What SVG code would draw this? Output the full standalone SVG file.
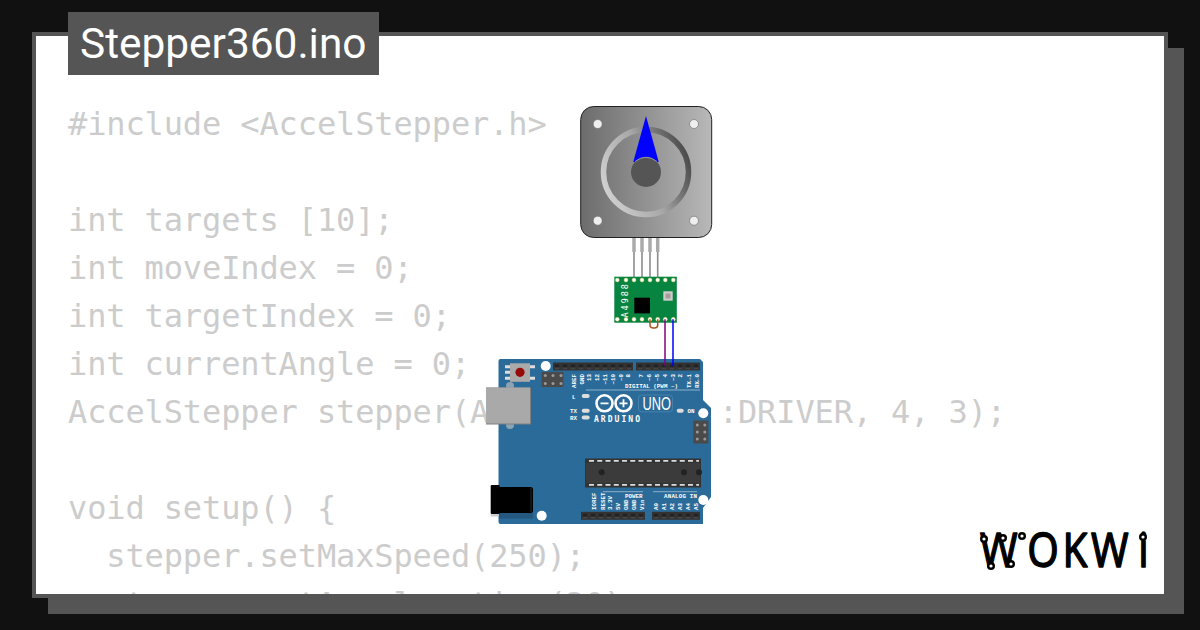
<svg xmlns="http://www.w3.org/2000/svg" width="1200" height="630" viewBox="0 0 1200 630">
<defs>
<style>
.code{font-family:"DejaVu Sans Mono","Liberation Mono",monospace;font-size:32px;fill:#ccc;white-space:pre;letter-spacing:-.12px}
.s{font-family:"Liberation Mono","DejaVu Sans Mono",monospace;font-size:5.8px;font-weight:700;fill:#fff}
.v{text-anchor:end}
.pad{fill:#fff;stroke:#d8c24a;stroke-width:.4}
.pin{stroke:#ddd;stroke-width:3;stroke-linecap:butt}
.led{fill:#ddd}
.hole{fill:#fff}
.d{fill:#999}
.logo{fill:#fff;stroke:#000;stroke-width:2.4}
</style>
<linearGradient id="body" x1="0" x2="1" y1="0" y2="0"><stop offset="0" stop-color="#6c6c6c"/><stop offset="1" stop-color="#b8b8b8"/></linearGradient>
<linearGradient id="ring" x1="0" x2="1" y1=".7" y2=".3"><stop offset="0" stop-color="#d0d0d0"/><stop offset=".5" stop-color="#a8a8a8"/><stop offset=".75" stop-color="#777"/><stop offset="1" stop-color="#4a4a4a"/></linearGradient>
<pattern id="pins" patternUnits="userSpaceOnUse" width="8" height="8"><rect width="8" height="8" fill="#333"/><rect x="1.800" y="2" width="4.400" height="4.400" fill="#222"/><rect x="1.800" y="5.200" width="4.400" height="1.200" fill="#555"/></pattern>
<clipPath id="page"><rect x="36" y="36" width="1128" height="558"/></clipPath>
</defs>
<rect width="1200" height="630" fill="#111"/>
<rect x="48" y="48" width="1136" height="566" fill="#555"/>
<rect x="34" y="34" width="1132" height="562" fill="#fff" stroke="#555" stroke-width="4"/>
<g id="code" clip-path="url(#page)">
<text class="code" x="68" y="135">#include &lt;AccelStepper.h&gt;</text>
<text class="code" x="68" y="231">int targets [10];</text>
<text class="code" x="68" y="279">int moveIndex = 0;</text>
<text class="code" x="68" y="327">int targetIndex = 0;</text>
<text class="code" x="68" y="375">int currentAngle = 0;</text>
<text class="code" x="68" y="423">AccelStepper stepper(A</text>
<text class="code" x="718.800" y="423">:DRIVER, 4, 3);</text>
<text class="code" x="68" y="519">void setup() {</text>
<text class="code" x="68" y="567">  stepper.setMaxSpeed(250);</text>
<text class="code" x="68" y="615">  stepper.setAcceleration(30);</text>
</g>
<g id="title">
<rect x="68" y="12" width="311" height="63" fill="#555"/>
<text x="80" y="58" font-family="Roboto,sans-serif" font-size="42.400" fill="#fff">Stepper360.ino</text>
</g>
<g id="uno">
<path d="M500.500 359H700L703 362V400L711 408V497L703 508V524H500.500Q498.500 524 498.500 522V361Q498.500 359 500.500 359Z" fill="#2b6b99"/>
<path d="M499 518.500H533V513H499Z" fill="#24587e"/>
<circle cx="510" cy="386" r="4" fill="#8ca3b3"/><circle cx="510" cy="425" r="4" fill="#8ca3b3"/>
<g><g transform="translate(553 362.500)"><rect width="80" height="8" fill="url(#pins)"/></g>
<g transform="translate(636 362.500)"><rect width="64" height="8" fill="url(#pins)"/></g>
<g transform="translate(581 511.800)"><rect width="64" height="8" fill="url(#pins)"/></g>
<g transform="translate(652 511.800)"><rect width="48" height="8" fill="url(#pins)"/></g></g>
<circle class="hole" cx="545.700" cy="366" r="5"/><circle class="hole" cx="703.300" cy="413.300" r="5"/><circle class="hole" cx="541.700" cy="515.700" r="5"/><circle class="hole" cx="703.300" cy="500" r="5"/>
<g id="reset"><path class="pin" d="M505 366.700h5M505 372.300h5M505 378.300h5M530 366.700h5M530 378.300h5"/><rect x="510" y="363.300" width="20" height="18.500" fill="#aaa"/><circle cx="520" cy="372.300" r="4.600" fill="#960a0a"/></g>
<g id="icsp1"><rect x="541.700" y="372" width="21.700" height="15" fill="#4a4a4a"/><circle class="d" cx="545.300" cy="375.500" r="1.500"/><circle class="d" cx="553" cy="375.500" r="1.500"/><circle class="d" cx="561" cy="375.500" r="1.500"/><circle class="d" cx="545.300" cy="383.500" r="1.500"/><circle class="d" cx="553" cy="383.500" r="1.500"/><circle class="d" cx="561" cy="383.500" r="1.500"/></g>
<g id="icsp2"><rect x="693.300" y="420.500" width="15" height="23" fill="#4a4a4a"/><circle class="d" cx="697.300" cy="425" r="1.500"/><circle class="d" cx="704.800" cy="425" r="1.500"/><circle class="d" cx="697.300" cy="432" r="1.500"/><circle class="d" cx="704.800" cy="432" r="1.500"/><circle class="d" cx="697.300" cy="439" r="1.500"/><circle class="d" cx="704.800" cy="439" r="1.500"/></g>
<g id="usb"><rect x="486" y="387.500" width="45" height="37" fill="#7f7f7f"/><rect x="486" y="387.500" width="44" height="36" fill="#a9a9a9"/></g>
<g id="jack"><rect x="490.700" y="485" width="9" height="29" rx="1" fill="#000"/><rect x="490.700" y="514" width="8" height="2.500" fill="#ccc"/><rect x="497" y="487" width="36" height="26" rx="2.500" fill="#000"/><path d="M531 488v24" stroke="#333" stroke-width=".8"/></g>
<g id="chip"><rect x="585" y="458.500" width="116" height="29" fill="#333"/><rect x="586" y="463" width="114" height="20" fill="#3b3b3b"/>
<path d="M589 460.800H699M589 484.800H699" stroke="#ddd" stroke-width="1.800" stroke-dasharray="5 3.250" fill="none"/>
<circle cx="601.700" cy="472.300" r="3" fill="#222"/><circle cx="684" cy="472.300" r="3" fill="#222"/><circle cx="699" cy="472.300" r="3" fill="#222"/></g>
<g id="labels">
<g class="s">
<text class="v" transform="translate(576 374) rotate(-90)">AREF</text>
<text class="v" transform="translate(584 374) rotate(-90)">GND</text>
<text class="v" transform="translate(591 374) rotate(-90)">13</text>
<text class="v" transform="translate(599 374) rotate(-90)">12</text>
<text class="v" transform="translate(607 374) rotate(-90)">~11</text>
<text class="v" transform="translate(615 374) rotate(-90)">~10</text>
<text class="v" transform="translate(623 374) rotate(-90)">~9</text>
<text class="v" transform="translate(630 374) rotate(-90)">8</text>
<text class="v" transform="translate(643 374) rotate(-90)">7</text>
<text class="v" transform="translate(651 374) rotate(-90)">~6</text>
<text class="v" transform="translate(659 374) rotate(-90)">~5</text>
<text class="v" transform="translate(667 374) rotate(-90)">4</text>
<text class="v" transform="translate(675 374) rotate(-90)">~3</text>
<text class="v" transform="translate(682 374) rotate(-90)">2</text>
<text class="v" transform="translate(691 374) rotate(-90)">TX→1</text>
<text class="v" transform="translate(699 374) rotate(-90)">RX←0</text>
<text x="625" y="387.500" textLength="53">DIGITAL (PWM ~)</text>
<text x="572" y="398.500">L</text>
<text x="570" y="412.500">TX</text>
<text x="570" y="419.500">RX</text>
<text x="687.500" y="412.700">ON</text>
<text transform="translate(596 510) rotate(-90)">IOREF</text>
<text transform="translate(604.500 510) rotate(-90)">RESET</text>
<text transform="translate(612 510) rotate(-90)">3.3V</text>
<text transform="translate(619.500 510) rotate(-90)">5V</text>
<text transform="translate(627.500 510) rotate(-90)">GND</text>
<text transform="translate(635.500 510) rotate(-90)">GND</text>
<text transform="translate(643.500 510) rotate(-90)">Vin</text>
<text transform="translate(658 510) rotate(-90)">A0</text>
<text transform="translate(666 510) rotate(-90)">A1</text>
<text transform="translate(674 510) rotate(-90)">A2</text>
<text transform="translate(681.500 510) rotate(-90)">A3</text>
<text transform="translate(689.500 510) rotate(-90)">A4</text>
<text transform="translate(697.500 510) rotate(-90)">A5</text>
<text x="625" y="498">POWER</text>
<text x="664" y="498" textLength="33">ANALOG IN</text>
</g>
<path d="M586 390H700M603 491.700H643M653 491.700H697" stroke="#cfe0ec" stroke-width=".6" fill="none"/>
<rect class="led" x="581.700" y="394" width="8" height="4" rx="2"/><rect class="led" x="581.700" y="408.700" width="8" height="4" rx="2"/><rect class="led" x="581.700" y="415.500" width="8" height="4" rx="2"/><rect class="led" x="676.700" y="408.700" width="7" height="4" rx="2"/>
<g id="arduino-logo"><circle cx="604.500" cy="403.300" r="8" fill="none" stroke="#fff" stroke-width="2.600"/><circle cx="623.500" cy="403.300" r="8" fill="none" stroke="#fff" stroke-width="2.600"/><path d="M600.500 403.300h8M619.500 403.300h8M623.500 399.300v8" stroke="#fff" stroke-width="1.800"/>
<text x="594" y="421.500" font-family="'DejaVu Sans Mono',monospace" font-size="8" font-weight="700" fill="#fff" textLength="46">ARDUINO</text></g>
<rect x="638.500" y="395" width="34" height="16.800" rx="3" fill="none" stroke="#4d86ae" stroke-width=".8"/>
<text x="642.500" y="409.800" font-family="'Liberation Sans',sans-serif" font-size="17.500" fill="#fff" textLength="28.500" lengthAdjust="spacingAndGlyphs">UNO</text>
</g>
</g>
<g id="stepper">
<path d="M634 238v14M642 238v14M650 238v14M657.700 238v14" stroke="#aaa" stroke-width="3.500"/>
<path d="M634 252v26M642 252v26M650 252v26M657.700 252v26" stroke="#8c8c8c" stroke-width="1.600"/>
<rect x="580.700" y="106.500" width="131" height="131" rx="13" fill="url(#body)" stroke="#222" stroke-width="1"/>
<g fill="#eee" stroke="#666" stroke-width=".6"><circle cx="597.700" cy="124" r="4.500"/><circle cx="694" cy="124" r="4.500"/><circle cx="597.700" cy="220.700" r="4.500"/><circle cx="694" cy="220.700" r="4.500"/></g>
<circle cx="646" cy="172" r="42.500" fill="none" stroke="url(#ring)" stroke-width="5.500"/>
<path d="M646 116L658.700 161.700H633.300Z" fill="#00f"/>
<path d="M633.300 161.700Q646 150 658.700 161.700" fill="#00f"/>
<circle cx="646" cy="172" r="15" fill="#555"/>
<path d="M635 161.500Q646 153 657 161.500" fill="none" stroke="#aaa" stroke-width=".8"/>
</g>
<g id="a4988">
<rect x="614.300" y="276.700" width="62.500" height="46" fill="#07843f"/>
<g class="pads"><circle class="pad" cx="617.300" cy="280" r="2"/><circle class="pad" cx="626" cy="280" r="2"/><circle class="pad" cx="634" cy="280" r="2"/><circle class="pad" cx="642" cy="280" r="2"/><circle class="pad" cx="650" cy="280" r="2"/><circle class="pad" cx="657.700" cy="280" r="2"/><circle class="pad" cx="665.300" cy="280" r="2"/><circle class="pad" cx="673.300" cy="280" r="2"/>
<circle class="pad" cx="617.300" cy="319.300" r="2"/><circle class="pad" cx="626" cy="319.300" r="2"/><circle class="pad" cx="634" cy="319.300" r="2"/><circle class="pad" cx="642" cy="319.300" r="2"/><circle class="pad" cx="650" cy="319.300" r="2"/><circle class="pad" cx="657.700" cy="319.300" r="2"/><circle class="pad" cx="665.300" cy="319.300" r="2"/><circle class="pad" cx="673.300" cy="319.300" r="2"/></g>
<rect x="634.300" y="297.700" width="15.700" height="15.700" fill="#000"/>
<rect x="663.300" y="291.300" width="9.400" height="9.400" fill="#ccc"/><rect x="665.500" y="293.500" width="5" height="5" fill="#a89a9a"/>
<text transform="translate(627.500 317.500) rotate(-90)" font-family="'DejaVu Sans Mono',monospace" font-size="8.500" fill="#fff" textLength="33.500">A4988</text>
</g>
<g id="connectors" fill="none" stroke-width="1.500">
<path d="M650 319.300V325Q650 328 653.500 328H654.500Q657.700 328 657.700 325V319.300" stroke="#a5561d"/>
<path d="M665 319.300V366" stroke="#800080"/>
<path d="M673 319.300V366" stroke="#00f"/>
</g>
<g id="wokwi-logo">
<text transform="translate(980 567) scale(.86 1)" font-family="'Noto Sans',sans-serif" font-size="47" fill="#000" stroke="#000" stroke-width="1.300" stroke-linejoin="round"><tspan x="0">W</tspan><tspan x="55">O</tspan><tspan x="96">K</tspan><tspan x="129">W</tspan><tspan x="184">i</tspan></text>
<circle class="logo" cx="984" cy="539" r="2.800"/><circle class="logo" cx="1003" cy="538" r="2.800"/><circle class="logo" cx="1022" cy="536" r="2.800"/><circle class="logo" cx="991" cy="566" r="2.800"/><circle class="logo" cx="1011" cy="564" r="2.800"/><circle class="logo" cx="1143" cy="537" r="2.800"/>
</g>
</svg>
